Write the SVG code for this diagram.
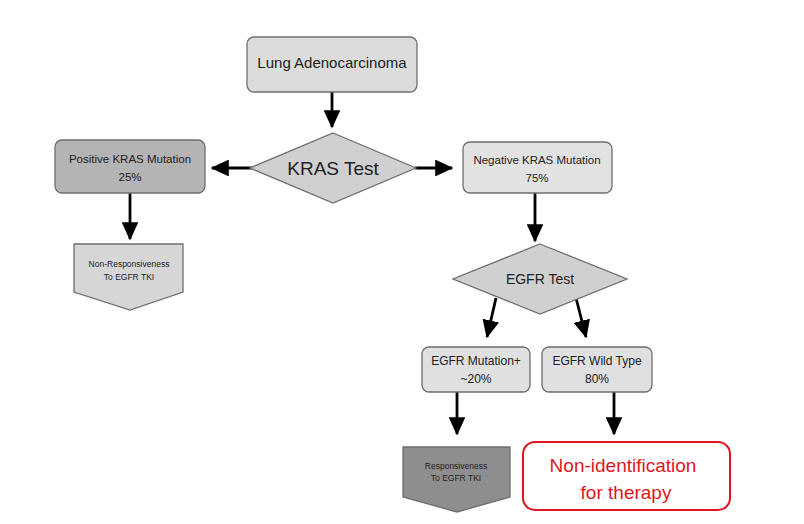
<svg xmlns="http://www.w3.org/2000/svg" width="804" height="524" viewBox="0 0 804 524">
<defs>
<marker id="ah" markerWidth="7" markerHeight="6" refX="6" refY="3" orient="auto" markerUnits="strokeWidth">
<path d="M0,0 L6.5,3 L0,6 Z" fill="#000"/>
</marker>
<style>
.box{stroke:#6e6e6e;stroke-width:1.3}
.t{font-family:"Liberation Sans",Arial,sans-serif;fill:#222;text-anchor:middle}
.c{stroke:#000;stroke-width:2.8;fill:none;marker-end:url(#ah)}
</style>
</defs>
<rect width="804" height="524" fill="#fff"/>
<g id="connectors">
<line class="c" x1="332" y1="92" x2="332" y2="127"/>
<line class="c" x1="252" y1="168" x2="212" y2="168"/>
<line class="c" x1="415" y1="168" x2="452" y2="168"/>
<line class="c" x1="130" y1="193" x2="130" y2="239"/>
<line class="c" x1="535" y1="193" x2="535" y2="241"/>
<line class="c" x1="496" y1="298" x2="487" y2="337"/>
<line class="c" x1="576" y1="298" x2="586" y2="337"/>
<line class="c" x1="457" y1="392" x2="457" y2="434"/>
<line class="c" x1="614" y1="392" x2="614" y2="434"/>
</g>
<g id="lung">
<rect class="box" x="247" y="37" width="170" height="55" rx="7" fill="#dcdcdc"/>
<text class="t" x="332" y="68" font-size="15">Lung Adenocarcinoma</text>
</g>
<g id="kras-test">
<polygon class="box" points="333,133 416,168 333,203 250,168" fill="#d0d0d0"/>
<text class="t" x="333" y="175" font-size="19">KRAS Test</text>
</g>
<g id="kras-pos">
<rect class="box" x="55" y="140" width="150" height="53" rx="7" fill="#b4b4b4"/>
<text class="t" x="130" y="163" font-size="11.5">Positive KRAS Mutation</text>
<text class="t" x="130" y="181" font-size="11.5">25%</text>
</g>
<g id="kras-neg">
<rect class="box" x="463" y="142" width="149" height="51" rx="7" fill="#e2e2e2"/>
<text class="t" x="537" y="164" font-size="11.5">Negative KRAS Mutation</text>
<text class="t" x="537" y="182" font-size="11.5">75%</text>
</g>
<g id="non-resp">
<polygon class="box" points="74,244 183,244 183,292 130,310 74,292" fill="#d6d6d6"/>
<text class="t" x="129" y="267" font-size="8.5">Non-Responsiveness</text>
<text class="t" x="129" y="280" font-size="8.5">To EGFR TKI</text>
</g>
<g id="egfr-test">
<polygon class="box" points="540,244 627,279 540,314 453,279" fill="#d0d0d0"/>
<text class="t" x="540" y="284" font-size="14">EGFR Test</text>
</g>
<g id="egfr-mut">
<rect class="box" x="422" y="347" width="108" height="45" rx="7" fill="#e0e0e0"/>
<text class="t" x="476" y="365" font-size="12">EGFR Mutation+</text>
<text class="t" x="476" y="383" font-size="12">~20%</text>
</g>
<g id="egfr-wild">
<rect class="box" x="542" y="347" width="110" height="45" rx="7" fill="#e0e0e0"/>
<text class="t" x="597" y="365" font-size="12">EGFR Wild Type</text>
<text class="t" x="597" y="383" font-size="12">80%</text>
</g>
<g id="resp">
<polygon class="box" points="403,447 510,447 510,497 457,512 403,497" fill="#8e8e8e"/>
<text class="t" x="456" y="469" font-size="8.5">Responsiveness</text>
<text class="t" x="456" y="481" font-size="8.5">To EGFR TKI</text>
</g>
<g id="non-ident">
<rect x="523" y="442" width="207" height="68" rx="12" fill="#fff" stroke="#e0141e" stroke-width="2"/>
<text class="t" x="623" y="472" font-size="19" style="fill:#e0141e">Non-identification</text>
<text class="t" x="626" y="499" font-size="19" style="fill:#e0141e">for therapy</text>
</g>
</svg>
